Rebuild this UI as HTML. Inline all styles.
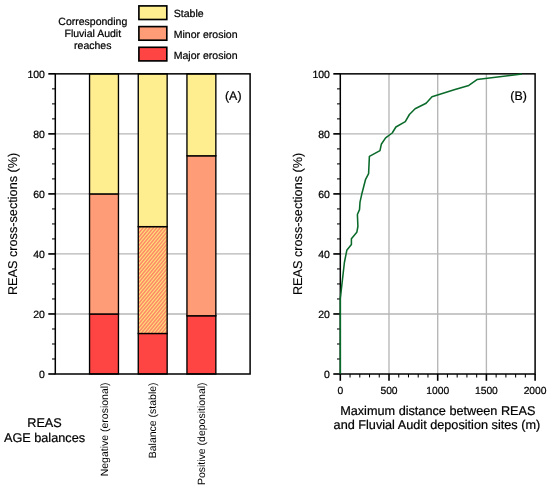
<!DOCTYPE html>
<html><head><meta charset="utf-8"><title>Figure</title>
<style>html,body{margin:0;padding:0;background:#fff}svg{display:block}text{stroke-linejoin:round}</style></head>
<body>
<svg width="550" height="489" viewBox="0 0 550 489" font-family="'Liberation Sans', Arial, sans-serif" fill="#000" stroke="#000" stroke-width="0.22" text-rendering="geometricPrecision">
<rect width="550" height="489" fill="#fff" stroke="none"/>
<line x1="55.3" x2="250.1" y1="313.97" y2="313.97" stroke="#b6b6b6" stroke-width="1.35"/>
<line x1="55.3" x2="250.1" y1="253.94" y2="253.94" stroke="#b6b6b6" stroke-width="1.35"/>
<line x1="55.3" x2="250.1" y1="193.91" y2="193.91" stroke="#b6b6b6" stroke-width="1.35"/>
<line x1="55.3" x2="250.1" y1="133.88" y2="133.88" stroke="#b6b6b6" stroke-width="1.35"/>
<rect x="89.55" y="313.97" width="28.9" height="60.03" fill="#FF4444" stroke="#000" stroke-width="1.35"/>
<rect x="89.55" y="193.91" width="28.9" height="120.06" fill="#FF9C78" stroke="#000" stroke-width="1.35"/>
<rect x="89.55" y="73.85" width="28.9" height="120.06" fill="#FFEE90" stroke="#000" stroke-width="1.35"/>
<rect x="138.25" y="333.48" width="28.9" height="40.52" fill="#FF4444" stroke="#000" stroke-width="1.35"/>
<clipPath id="hc"><rect x="138.25" y="226.63" width="28.9" height="106.85"/></clipPath>
<rect x="138.25" y="226.63" width="28.9" height="106.85" fill="#FF8A68" stroke="none"/>
<g clip-path="url(#hc)" stroke="#FFE47C" stroke-width="1.05">
<line x1="51.47" y1="333.48" x2="139.05" y2="226.63"/>
<line x1="54.85" y1="333.48" x2="142.43" y2="226.63"/>
<line x1="58.23" y1="333.48" x2="145.81" y2="226.63"/>
<line x1="61.61" y1="333.48" x2="149.19" y2="226.63"/>
<line x1="64.99" y1="333.48" x2="152.57" y2="226.63"/>
<line x1="68.37" y1="333.48" x2="155.95" y2="226.63"/>
<line x1="71.75" y1="333.48" x2="159.33" y2="226.63"/>
<line x1="75.13" y1="333.48" x2="162.71" y2="226.63"/>
<line x1="78.51" y1="333.48" x2="166.09" y2="226.63"/>
<line x1="81.89" y1="333.48" x2="169.47" y2="226.63"/>
<line x1="85.27" y1="333.48" x2="172.85" y2="226.63"/>
<line x1="88.65" y1="333.48" x2="176.23" y2="226.63"/>
<line x1="92.03" y1="333.48" x2="179.61" y2="226.63"/>
<line x1="95.41" y1="333.48" x2="182.99" y2="226.63"/>
<line x1="98.79" y1="333.48" x2="186.37" y2="226.63"/>
<line x1="102.17" y1="333.48" x2="189.75" y2="226.63"/>
<line x1="105.55" y1="333.48" x2="193.13" y2="226.63"/>
<line x1="108.93" y1="333.48" x2="196.51" y2="226.63"/>
<line x1="112.31" y1="333.48" x2="199.89" y2="226.63"/>
<line x1="115.69" y1="333.48" x2="203.27" y2="226.63"/>
<line x1="119.07" y1="333.48" x2="206.65" y2="226.63"/>
<line x1="122.45" y1="333.48" x2="210.03" y2="226.63"/>
<line x1="125.83" y1="333.48" x2="213.41" y2="226.63"/>
<line x1="129.21" y1="333.48" x2="216.79" y2="226.63"/>
<line x1="132.59" y1="333.48" x2="220.17" y2="226.63"/>
<line x1="135.97" y1="333.48" x2="223.55" y2="226.63"/>
<line x1="139.35" y1="333.48" x2="226.93" y2="226.63"/>
<line x1="142.73" y1="333.48" x2="230.31" y2="226.63"/>
<line x1="146.11" y1="333.48" x2="233.69" y2="226.63"/>
<line x1="149.49" y1="333.48" x2="237.07" y2="226.63"/>
<line x1="152.87" y1="333.48" x2="240.45" y2="226.63"/>
<line x1="156.25" y1="333.48" x2="243.83" y2="226.63"/>
<line x1="159.63" y1="333.48" x2="247.21" y2="226.63"/>
<line x1="163.01" y1="333.48" x2="250.59" y2="226.63"/>
<line x1="166.39" y1="333.48" x2="253.97" y2="226.63"/>
</g>
<rect x="138.25" y="226.63" width="28.9" height="106.85" fill="none" stroke="#000" stroke-width="1.35"/>
<rect x="138.25" y="73.85" width="28.9" height="152.78" fill="#FFEE90" stroke="#000" stroke-width="1.35"/>
<rect x="186.95" y="315.77" width="28.9" height="58.23" fill="#FF4444" stroke="#000" stroke-width="1.35"/>
<rect x="186.95" y="155.79" width="28.9" height="159.98" fill="#FF9C78" stroke="#000" stroke-width="1.35"/>
<rect x="186.95" y="73.85" width="28.9" height="81.94" fill="#FFEE90" stroke="#000" stroke-width="1.35"/>
<rect x="55.3" y="73.85" width="194.80" height="300.15" fill="none" stroke="#000" stroke-width="1.5"/>
<line x1="48.3" x2="55.3" y1="374.00" y2="374.00" stroke="#000" stroke-width="1.65"/>
<line x1="52.0" x2="55.3" y1="358.99" y2="358.99" stroke="#000" stroke-width="1.05"/>
<line x1="52.0" x2="55.3" y1="343.99" y2="343.99" stroke="#000" stroke-width="1.05"/>
<line x1="52.0" x2="55.3" y1="328.98" y2="328.98" stroke="#000" stroke-width="1.05"/>
<line x1="48.3" x2="55.3" y1="313.97" y2="313.97" stroke="#000" stroke-width="1.65"/>
<line x1="52.0" x2="55.3" y1="298.96" y2="298.96" stroke="#000" stroke-width="1.05"/>
<line x1="52.0" x2="55.3" y1="283.95" y2="283.95" stroke="#000" stroke-width="1.05"/>
<line x1="52.0" x2="55.3" y1="268.95" y2="268.95" stroke="#000" stroke-width="1.05"/>
<line x1="48.3" x2="55.3" y1="253.94" y2="253.94" stroke="#000" stroke-width="1.65"/>
<line x1="52.0" x2="55.3" y1="238.93" y2="238.93" stroke="#000" stroke-width="1.05"/>
<line x1="52.0" x2="55.3" y1="223.93" y2="223.93" stroke="#000" stroke-width="1.05"/>
<line x1="52.0" x2="55.3" y1="208.92" y2="208.92" stroke="#000" stroke-width="1.05"/>
<line x1="48.3" x2="55.3" y1="193.91" y2="193.91" stroke="#000" stroke-width="1.65"/>
<line x1="52.0" x2="55.3" y1="178.90" y2="178.90" stroke="#000" stroke-width="1.05"/>
<line x1="52.0" x2="55.3" y1="163.90" y2="163.90" stroke="#000" stroke-width="1.05"/>
<line x1="52.0" x2="55.3" y1="148.89" y2="148.89" stroke="#000" stroke-width="1.05"/>
<line x1="48.3" x2="55.3" y1="133.88" y2="133.88" stroke="#000" stroke-width="1.65"/>
<line x1="52.0" x2="55.3" y1="118.87" y2="118.87" stroke="#000" stroke-width="1.05"/>
<line x1="52.0" x2="55.3" y1="103.87" y2="103.87" stroke="#000" stroke-width="1.05"/>
<line x1="52.0" x2="55.3" y1="88.86" y2="88.86" stroke="#000" stroke-width="1.05"/>
<line x1="48.3" x2="55.3" y1="73.85" y2="73.85" stroke="#000" stroke-width="1.65"/>
<text x="44.699999999999996" y="377.95" font-size="10.5" letter-spacing="-0.12" text-anchor="end">0</text>
<text x="44.699999999999996" y="317.92" font-size="10.5" letter-spacing="-0.12" text-anchor="end">20</text>
<text x="44.699999999999996" y="257.89" font-size="10.5" letter-spacing="-0.12" text-anchor="end">40</text>
<text x="44.699999999999996" y="197.86" font-size="10.5" letter-spacing="-0.12" text-anchor="end">60</text>
<text x="44.699999999999996" y="137.83" font-size="10.5" letter-spacing="-0.12" text-anchor="end">80</text>
<text x="44.699999999999996" y="77.80" font-size="10.5" letter-spacing="-0.12" text-anchor="end">100</text>
<line x1="340.3" x2="535.1" y1="313.97" y2="313.97" stroke="#b6b6b6" stroke-width="1.35"/>
<line x1="340.3" x2="535.1" y1="253.94" y2="253.94" stroke="#b6b6b6" stroke-width="1.35"/>
<line x1="340.3" x2="535.1" y1="193.91" y2="193.91" stroke="#b6b6b6" stroke-width="1.35"/>
<line x1="340.3" x2="535.1" y1="133.88" y2="133.88" stroke="#b6b6b6" stroke-width="1.35"/>
<line x1="389.00" x2="389.00" y1="374.0" y2="73.85" stroke="#b6b6b6" stroke-width="1.35"/>
<line x1="437.70" x2="437.70" y1="374.0" y2="73.85" stroke="#b6b6b6" stroke-width="1.35"/>
<line x1="486.40" x2="486.40" y1="374.0" y2="73.85" stroke="#b6b6b6" stroke-width="1.35"/>
<rect x="340.3" y="73.85" width="194.80" height="300.15" fill="none" stroke="#000" stroke-width="1.5"/>
<line x1="333.3" x2="340.3" y1="374.00" y2="374.00" stroke="#000" stroke-width="1.65"/>
<line x1="337.0" x2="340.3" y1="358.99" y2="358.99" stroke="#000" stroke-width="1.05"/>
<line x1="337.0" x2="340.3" y1="343.99" y2="343.99" stroke="#000" stroke-width="1.05"/>
<line x1="337.0" x2="340.3" y1="328.98" y2="328.98" stroke="#000" stroke-width="1.05"/>
<line x1="333.3" x2="340.3" y1="313.97" y2="313.97" stroke="#000" stroke-width="1.65"/>
<line x1="337.0" x2="340.3" y1="298.96" y2="298.96" stroke="#000" stroke-width="1.05"/>
<line x1="337.0" x2="340.3" y1="283.95" y2="283.95" stroke="#000" stroke-width="1.05"/>
<line x1="337.0" x2="340.3" y1="268.95" y2="268.95" stroke="#000" stroke-width="1.05"/>
<line x1="333.3" x2="340.3" y1="253.94" y2="253.94" stroke="#000" stroke-width="1.65"/>
<line x1="337.0" x2="340.3" y1="238.93" y2="238.93" stroke="#000" stroke-width="1.05"/>
<line x1="337.0" x2="340.3" y1="223.93" y2="223.93" stroke="#000" stroke-width="1.05"/>
<line x1="337.0" x2="340.3" y1="208.92" y2="208.92" stroke="#000" stroke-width="1.05"/>
<line x1="333.3" x2="340.3" y1="193.91" y2="193.91" stroke="#000" stroke-width="1.65"/>
<line x1="337.0" x2="340.3" y1="178.90" y2="178.90" stroke="#000" stroke-width="1.05"/>
<line x1="337.0" x2="340.3" y1="163.90" y2="163.90" stroke="#000" stroke-width="1.05"/>
<line x1="337.0" x2="340.3" y1="148.89" y2="148.89" stroke="#000" stroke-width="1.05"/>
<line x1="333.3" x2="340.3" y1="133.88" y2="133.88" stroke="#000" stroke-width="1.65"/>
<line x1="337.0" x2="340.3" y1="118.87" y2="118.87" stroke="#000" stroke-width="1.05"/>
<line x1="337.0" x2="340.3" y1="103.87" y2="103.87" stroke="#000" stroke-width="1.05"/>
<line x1="337.0" x2="340.3" y1="88.86" y2="88.86" stroke="#000" stroke-width="1.05"/>
<line x1="333.3" x2="340.3" y1="73.85" y2="73.85" stroke="#000" stroke-width="1.65"/>
<text x="329.7" y="377.95" font-size="10.5" letter-spacing="-0.12" text-anchor="end">0</text>
<text x="329.7" y="317.92" font-size="10.5" letter-spacing="-0.12" text-anchor="end">20</text>
<text x="329.7" y="257.89" font-size="10.5" letter-spacing="-0.12" text-anchor="end">40</text>
<text x="329.7" y="197.86" font-size="10.5" letter-spacing="-0.12" text-anchor="end">60</text>
<text x="329.7" y="137.83" font-size="10.5" letter-spacing="-0.12" text-anchor="end">80</text>
<text x="329.7" y="77.80" font-size="10.5" letter-spacing="-0.12" text-anchor="end">100</text>
<polyline fill="none" stroke="#0a6a2a" stroke-width="1.55" stroke-linejoin="round" points="340.3,373.8 340.3,298.6 344.4,262.5 346.8,250.3 351.4,244.5 351.4,238.8 356.8,232.3 357.9,226.5 357.4,214.5 359.5,209.6 360.0,202.2 362,193.2 365.6,179.3 368.6,173.6 369.4,156.4 380,150.6 381.3,144.3 385.6,137.9 392.2,133 395.9,127 405.3,121.6 409.4,114.5 415.1,108.8 426.1,103.2 432,96.7 455,89.6 468.8,85.4 477,79.6 522,73.9"/>
<line x1="340.30" x2="340.30" y1="374.0" y2="380.8" stroke="#000" stroke-width="1.6"/>
<line x1="350.04" x2="350.04" y1="374.0" y2="377.4" stroke="#000" stroke-width="1.05"/>
<line x1="359.78" x2="359.78" y1="374.0" y2="377.4" stroke="#000" stroke-width="1.05"/>
<line x1="369.52" x2="369.52" y1="374.0" y2="377.4" stroke="#000" stroke-width="1.05"/>
<line x1="379.26" x2="379.26" y1="374.0" y2="377.4" stroke="#000" stroke-width="1.05"/>
<line x1="389.00" x2="389.00" y1="374.0" y2="380.8" stroke="#000" stroke-width="1.6"/>
<line x1="398.74" x2="398.74" y1="374.0" y2="377.4" stroke="#000" stroke-width="1.05"/>
<line x1="408.48" x2="408.48" y1="374.0" y2="377.4" stroke="#000" stroke-width="1.05"/>
<line x1="418.22" x2="418.22" y1="374.0" y2="377.4" stroke="#000" stroke-width="1.05"/>
<line x1="427.96" x2="427.96" y1="374.0" y2="377.4" stroke="#000" stroke-width="1.05"/>
<line x1="437.70" x2="437.70" y1="374.0" y2="380.8" stroke="#000" stroke-width="1.6"/>
<line x1="447.44" x2="447.44" y1="374.0" y2="377.4" stroke="#000" stroke-width="1.05"/>
<line x1="457.18" x2="457.18" y1="374.0" y2="377.4" stroke="#000" stroke-width="1.05"/>
<line x1="466.92" x2="466.92" y1="374.0" y2="377.4" stroke="#000" stroke-width="1.05"/>
<line x1="476.66" x2="476.66" y1="374.0" y2="377.4" stroke="#000" stroke-width="1.05"/>
<line x1="486.40" x2="486.40" y1="374.0" y2="380.8" stroke="#000" stroke-width="1.6"/>
<line x1="496.14" x2="496.14" y1="374.0" y2="377.4" stroke="#000" stroke-width="1.05"/>
<line x1="505.88" x2="505.88" y1="374.0" y2="377.4" stroke="#000" stroke-width="1.05"/>
<line x1="515.62" x2="515.62" y1="374.0" y2="377.4" stroke="#000" stroke-width="1.05"/>
<line x1="525.36" x2="525.36" y1="374.0" y2="377.4" stroke="#000" stroke-width="1.05"/>
<line x1="535.10" x2="535.10" y1="374.0" y2="380.8" stroke="#000" stroke-width="1.6"/>
<text x="340.30" y="394.25" font-size="10.3" text-anchor="middle">0</text>
<text x="389.00" y="394.25" font-size="10.3" text-anchor="middle">500</text>
<text x="437.70" y="394.25" font-size="10.3" text-anchor="middle">1000</text>
<text x="486.40" y="394.25" font-size="10.3" text-anchor="middle">1500</text>
<text x="535.10" y="394.25" font-size="10.3" text-anchor="middle">2000</text>
<text x="437.8" y="414.8" font-size="12.7" text-anchor="middle">Maximum distance between REAS</text>
<text x="436.9" y="429.2" font-size="12.7" text-anchor="middle">and Fluvial Audit deposition sites (m)</text>
<text transform="translate(17.0,223.9) rotate(-90)" font-size="12.7" text-anchor="middle" stroke-width="0.12">REAS cross-sections (%)</text>
<text transform="translate(302.0,223.9) rotate(-90)" font-size="12.7" text-anchor="middle" stroke-width="0.12">REAS cross-sections (%)</text>
<text x="233.25" y="100.4" font-size="12.4" text-anchor="middle">(A)</text>
<text x="518.6" y="100.4" font-size="12.4" text-anchor="middle">(B)</text>
<text transform="translate(107.60,382.4) rotate(-90)" font-size="10.5" text-anchor="end" stroke="none">Negative (erosional)</text>
<text transform="translate(156.30,382.4) rotate(-90)" font-size="10.5" text-anchor="end" stroke="none">Balance (stable)</text>
<text transform="translate(205.00,382.4) rotate(-90)" font-size="10.5" text-anchor="end" stroke="none">Positive (depositional)</text>
<text x="44.5" y="426.5" font-size="12.7" text-anchor="middle">REAS</text>
<text x="44.5" y="442.0" font-size="12.7" text-anchor="middle">AGE balances</text>
<rect x="138.9" y="5.90" width="27.9" height="13.6" fill="#FFEE90" stroke="#000" stroke-width="1.65"/>
<text x="173.7" y="16.50" font-size="10.55">Stable</text>
<rect x="138.9" y="26.60" width="27.9" height="13.6" fill="#FF9C78" stroke="#000" stroke-width="1.65"/>
<text x="173.7" y="37.50" font-size="10.55">Minor erosion</text>
<rect x="138.9" y="47.30" width="27.9" height="13.6" fill="#FF4444" stroke="#000" stroke-width="1.65"/>
<text x="173.7" y="58.50" font-size="10.55">Major erosion</text>
<text x="92.8" y="25.30" font-size="10.5" text-anchor="middle">Corresponding</text>
<text x="92.8" y="36.90" font-size="10.5" text-anchor="middle">Fluvial Audit</text>
<text x="92.8" y="48.50" font-size="10.5" text-anchor="middle">reaches</text>
</svg>
</body></html>
